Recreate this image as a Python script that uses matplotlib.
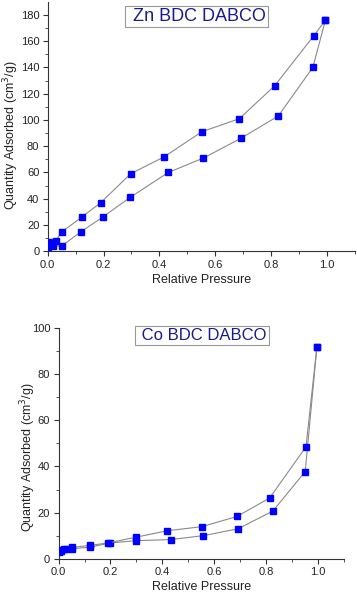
import numpy as np
import matplotlib.pyplot as plt

plt.rcParams['font.family'] = ['Liberation Sans', 'DejaVu Sans']

# Zn BDC DABCO isotherm
zn_ads_p = [0.002, 0.02, 0.05, 0.12, 0.197, 0.295, 0.432, 0.558, 0.692, 0.826, 0.95, 0.995]
zn_ads_q = [3, 4, 4, 15, 26, 41, 60, 71, 86, 103, 140, 176]
zn_des_p = [0.995, 0.953, 0.813, 0.687, 0.552, 0.418, 0.297, 0.19, 0.122, 0.052, 0.028, 0.01, 0.004]
zn_des_q = [176, 164, 126, 101, 91, 72, 59, 37, 26, 15, 8, 7, 6]

# Co BDC DABCO isotherm
co_ads_p = [0.003, 0.01, 0.02, 0.05, 0.12, 0.197, 0.297, 0.432, 0.558, 0.692, 0.826, 0.95, 0.995]
co_ads_q = [3, 3.5, 4, 4.3, 5, 6.8, 7.8, 8.3, 10, 13, 20.7, 37.8, 91.7]
co_des_p = [0.995, 0.953, 0.813, 0.687, 0.552, 0.418, 0.297, 0.19, 0.122, 0.052, 0.027, 0.01, 0.005]
co_des_q = [91.7, 48.5, 26.3, 18.3, 13.9, 12.1, 9.3, 6.8, 5.8, 4.9, 4.4, 3.8, 3.5]

fig = plt.figure(figsize=(3.57, 5.94), dpi=100)


def draw(ax, ads_p, ads_q, des_p, des_q, ymax, ystep, title, box_xy, fs, ylab_xy):
    for p, q in ((ads_p, ads_q), (des_p, des_q)):
        ax.plot(p, q, color='#8a8a8a', lw=0.8, marker='s', ms=4.3,
                mfc='#0000ff', mec='#0000ff', zorder=3)
    ax.set_xlim(0, 1.1)
    ax.set_ylim(0, ymax)
    ax.set_xticks(np.arange(0, 1.01, 0.2))
    ax.set_xticks(np.arange(0.1, 1.11, 0.2), minor=True)
    ax.set_yticks(np.arange(0, ymax + 0.1, ystep))
    ax.set_yticks(np.arange(ystep / 2, ymax, ystep), minor=True)
    for s in ('top', 'right'):
        ax.spines[s].set_visible(False)
    for s in ('left', 'bottom'):
        ax.spines[s].set_color('#333333')
        ax.spines[s].set_linewidth(0.8)
    ax.tick_params(which='both', direction='out', colors='#333333', labelsize=8,
                   labelcolor='#222222', pad=2.5)
    ax.tick_params(which='major', length=3.5)
    ax.tick_params(which='minor', length=2)
    ax.set_xlabel('Relative Pressure', fontsize=9, color='#222222', labelpad=3)
    ax.set_ylabel('Quantity Adsorbed (cm$^3$/g)', fontsize=9, color='#222222')
    ax.yaxis.set_label_coords(*ylab_xy)
    ax.text(box_xy[0], box_xy[1], title, transform=ax.transAxes, fontsize=fs,
            color='#1a1a8c', ha='left', va='center',
            bbox=dict(boxstyle='square,pad=0.12', fc='white', ec='#999999', lw=0.8))


ax1 = fig.add_axes([0.1336, 0.577, 0.86, 0.42])
draw(ax1, zn_ads_p, zn_ads_q, zn_des_p, zn_des_q, 190, 20,
     ' Zn BDC DABCO', (0.26, 0.942), 13, (-0.087, 0.467))

ax2 = fig.add_axes([0.164, 0.0594, 0.80, 0.3884])
draw(ax2, co_ads_p, co_ads_q, co_des_p, co_des_q, 100, 20,
     ' Co BDC DABCO', (0.275, 0.967), 12, (-0.073, 0.44))

fig.savefig('out.png', dpi=100)
